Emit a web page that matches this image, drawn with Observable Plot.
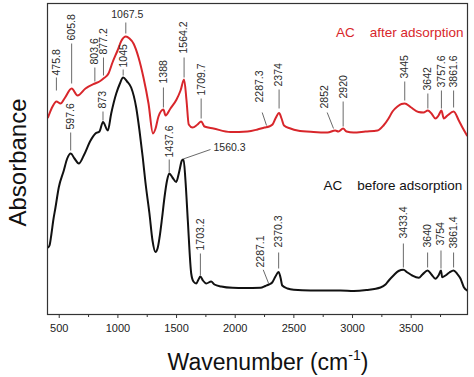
<!DOCTYPE html>
<html>
<head>
<meta charset="utf-8">
<script src="https://cdn.jsdelivr.net/npm/d3@7"></script>
<script src="https://cdn.jsdelivr.net/npm/@observablehq/plot@0.6"></script>
<style>
  html, body { margin: 0; padding: 0; background: #fff; }
  #chart svg { display: block; }
</style>
</head>
<body>
<div id="chart"></div>
<script>
// ---- Data ----
const xTicks = [500, 1000, 1500, 2000, 2500, 3000, 3500];
const xMinorTicks = [750, 1250, 1750, 2250, 2750, 3250, 3750];

// AC after adsorption (red)
const redWn = [404,443,476,511,545,606,656,724,804,843,877,920,954,997,1031,1068,1099,1133,1176,1218,1261,1299,1321,1346,1388,1406,1448,1500,1534,1564,1585,1604,1636,1679,1710,1738,1815,1960,2105,2190,2250,2288,2318,2343,2374,2395,2416,2471,2531,2667,2787,2852,2880,2920,2949,3008,3110,3213,3264,3307,3341,3383,3417,3445,3494,3562,3605,3642,3673,3707,3733,3758,3778,3809,3862,3906,3937,3976];
const redAbs = [1.97,2.08,2.13,2.11,2.16,2.26,2.19,2.26,2.31,2.33,2.36,2.41,2.52,2.64,2.74,2.78,2.76,2.71,2.57,2.37,2.11,1.81,1.86,1.98,2.05,1.99,2.06,2.15,2.24,2.35,2.14,1.90,1.87,1.90,1.93,1.88,1.86,1.825,1.83,1.85,1.87,1.88,1.90,1.96,2.015,1.96,1.89,1.86,1.84,1.825,1.82,1.84,1.83,1.86,1.83,1.82,1.83,1.84,1.89,1.96,2.03,2.08,2.105,2.11,2.075,2.025,2.02,2.04,2.01,1.96,1.99,2.04,1.96,1.99,2.03,1.94,1.87,1.79];

// AC before adsorption (black)
const blackWn = [404,417,434,449,468,496,539,568,598,630,667,709,767,809,843,873,914,943,986,1014,1045,1078,1113,1156,1184,1212,1235,1269,1295,1320,1338,1355,1376,1397,1419,1438,1465,1497,1521,1546,1560,1576,1596,1625,1644,1668,1687,1703,1725,1753,1795,1823,1881,1977,2079,2216,2257,2287,2315,2343,2370,2386,2401,2446,2499,2642,2753,2897,3011,3119,3238,3281,3309,3349,3392,3433,3469,3509,3565,3596,3640,3673,3707,3733,3754,3764,3792,3826,3861,3892,3920,3949,3976];
const blackAbs = [0.67,0.69,0.81,0.94,1.07,1.27,1.44,1.56,1.61,1.56,1.51,1.59,1.74,1.81,1.83,1.925,1.84,2.01,2.21,2.30,2.37,2.33,2.27,2.07,1.84,1.57,1.32,1.01,0.74,0.625,0.66,0.77,0.96,1.17,1.34,1.41,1.37,1.325,1.42,1.54,1.55,1.34,0.94,0.41,0.33,0.31,0.35,0.38,0.34,0.31,0.33,0.30,0.28,0.267,0.265,0.267,0.285,0.30,0.32,0.38,0.425,0.37,0.29,0.26,0.247,0.24,0.24,0.24,0.235,0.245,0.27,0.30,0.34,0.39,0.435,0.447,0.42,0.39,0.367,0.40,0.44,0.40,0.357,0.39,0.44,0.373,0.39,0.42,0.44,0.407,0.36,0.273,0.24];

// Peak labels with vertical leaders (label text, where text begins, leader top, leader bottom)
const redPeakLabels = ["475.8","605.8","803.6","877.2","1388","1564.2","1709.7","2374","2920","3445","3642","3757.6","3861.6"];
const redPeakTextAt = [2.39,2.74,2.50,2.60,2.31,2.61,2.19,2.28,2.16,2.36,2.24,2.27,2.27];
const redPeakLeadTop = [2.37,2.71,2.47,2.57,2.27,2.57,2.16,2.25,2.13,2.33,2.21,2.24,2.24];
const redPeakLeadBot = [2.24,2.31,2.33,2.39,2.07,2.37,1.96,2.06,1.88,2.14,2.06,2.06,2.07];

const blackPeakLabels = ["597.6","873","1045","1437.6","1703.2","2370.3","3433.4","3640","3754","3861.4"];
const blackPeakTextAt = [1.85,2.06,2.47,1.57,0.64,0.67,0.76,0.67,0.69,0.66];
const blackPeakLeadTop = [1.82,2.03,2.45,1.55,0.61,0.62,0.71,0.62,0.64,0.62];
const blackPeakLeadBot = [1.64,1.94,2.39,1.42,0.39,0.46,0.47,0.47,0.46,0.47];

// Labels with slanted leaders (rotated text)
const slantLabels = ["2287.3","2852","2287.1"];
const slantTextX = [2210,2764,2220];
const slantTextY = [2.12,2.06,0.47];
const slantX1 = [2230,2784,2239];
const slantY1 = [2.02,2.02,0.447];
const slantX2 = [2267,2838,2286];
const slantY2 = [1.89,1.86,0.307];

// Horizontal labels
const flatLabels = ["1067.5","1560.3"];
const flatTextX = [1080,1815];
const flatTextY = [3.00,1.67];
const flatX1 = [1067.5,1562];
const flatY1 = [2.92,1.557];
const flatX2 = [1067.5,1789];
const flatY2 = [2.81,1.65];

const seriesNames = ["AC\u00a0\u00a0\u00a0\u00a0after adsorption", "AC\u00a0\u00a0\u00a0\u00a0before adsorption"];
const seriesNameX = [3946, 3935];
const seriesNameY = [2.82, 1.29];
const seriesColors = ["#d8262b", "#111111"];

// ---- Build tables ----
const red = redWn.map((w, i) => ({wn: w, a: redAbs[i]}));
const black = blackWn.map((w, i) => ({wn: w, a: blackAbs[i]}));
const vPeaks = [
  ...redPeakLabels.map((t, i) => ({t, wn: +t, ta: redPeakTextAt[i], l1: redPeakLeadTop[i], l2: redPeakLeadBot[i]})),
  ...blackPeakLabels.map((t, i) => ({t, wn: +t, ta: blackPeakTextAt[i], l1: blackPeakLeadTop[i], l2: blackPeakLeadBot[i]}))
];
const slants = slantLabels.map((t, i) => ({t, tx: slantTextX[i], ty: slantTextY[i], x1: slantX1[i], y1: slantY1[i], x2: slantX2[i], y2: slantY2[i]}));
const flats = flatLabels.map((t, i) => ({t, tx: flatTextX[i], ty: flatTextY[i], x1: flatX1[i], y1: flatY1[i], x2: flatX2[i], y2: flatY2[i]}));
const names = seriesNames.map((t, i) => ({t, x: seriesNameX[i], y: seriesNameY[i], c: seriesColors[i]}));

const font = "'Liberation Sans', Arial, Helvetica, sans-serif";
const leadColor = "#6a6a6a";
const labelColor = "#2a2a2a";

const chart = Plot.plot({
  width: 474,
  height: 377,
  marginLeft: 47,
  marginRight: 7,
  marginTop: 3,
  marginBottom: 63,
  style: {fontFamily: font, background: "#fff", overflow: "visible"},
  x: {domain: [400, 3980]},
  y: {domain: [0, 3.11], axis: null},
  marks: [
    Plot.axisX({ticks: xTicks, tickSize: 4, tickPadding: 6, tickFormat: d => String(d), fontSize: 11, label: null, stroke: "#333", fill: "#222"}),
    Plot.axisX({ticks: xMinorTicks, tickSize: 3, tickFormat: () => "", label: null, stroke: "#333"}),
    Plot.line(red, {x: "wn", y: "a", stroke: "#d8262b", strokeWidth: 2, curve: "monotone-x"}),
    Plot.line(black, {x: "wn", y: "a", stroke: "#111", strokeWidth: 2, curve: "monotone-x"}),
    Plot.link(vPeaks, {x1: "wn", x2: "wn", y1: "l1", y2: "l2", stroke: leadColor, strokeWidth: 1}),
    Plot.text(vPeaks, {x: "wn", y: "ta", text: "t", rotate: -90, textAnchor: "start", fontSize: 10.5, fill: labelColor}),
    Plot.link(slants, {x1: "x1", y1: "y1", x2: "x2", y2: "y2", stroke: leadColor, strokeWidth: 1}),
    Plot.text(slants, {x: "tx", y: "ty", text: "t", rotate: -90, textAnchor: "start", fontSize: 10.5, fill: labelColor}),
    Plot.link(flats, {x1: "x1", y1: "y1", x2: "x2", y2: "y2", stroke: leadColor, strokeWidth: 1}),
    Plot.text(flats.slice(0, 1), {x: "tx", y: "ty", text: "t", textAnchor: "middle", fontSize: 10.5, fill: labelColor}),
    Plot.text(flats.slice(1), {x: "tx", y: "ty", text: "t", textAnchor: "start", fontSize: 10.5, fill: labelColor}),
    Plot.text(names.slice(0, 1), {x: "x", y: "y", text: "t", textAnchor: "end", fontSize: 13.5, fill: seriesColors[0]}),
    Plot.text(names.slice(1), {x: "x", y: "y", text: "t", textAnchor: "end", fontSize: 13.5, fill: seriesColors[1]}),
    Plot.frame({stroke: "#333", strokeWidth: 1.2})
  ]
});

document.getElementById("chart").appendChild(chart);

const svg = d3.select(chart);
// y axis title
svg.append("text")
  .attr("transform", "translate(26,162.5) rotate(-90)")
  .attr("text-anchor", "middle")
  .attr("font-family", font)
  .attr("font-size", 24)
  .attr("fill", "#111")
  .text("Absorbance");
// x axis title with superscript
const xt = svg.append("text")
  .attr("x", 268)
  .attr("y", 370)
  .attr("text-anchor", "middle")
  .attr("font-family", font)
  .attr("font-size", 23)
  .attr("fill", "#111");
xt.append("tspan").text("Wavenumber (cm");
xt.append("tspan").attr("font-size", 14).attr("dy", -10).text("-1");
xt.append("tspan").attr("dy", 10).text(")");
</script>
</body>
</html>
